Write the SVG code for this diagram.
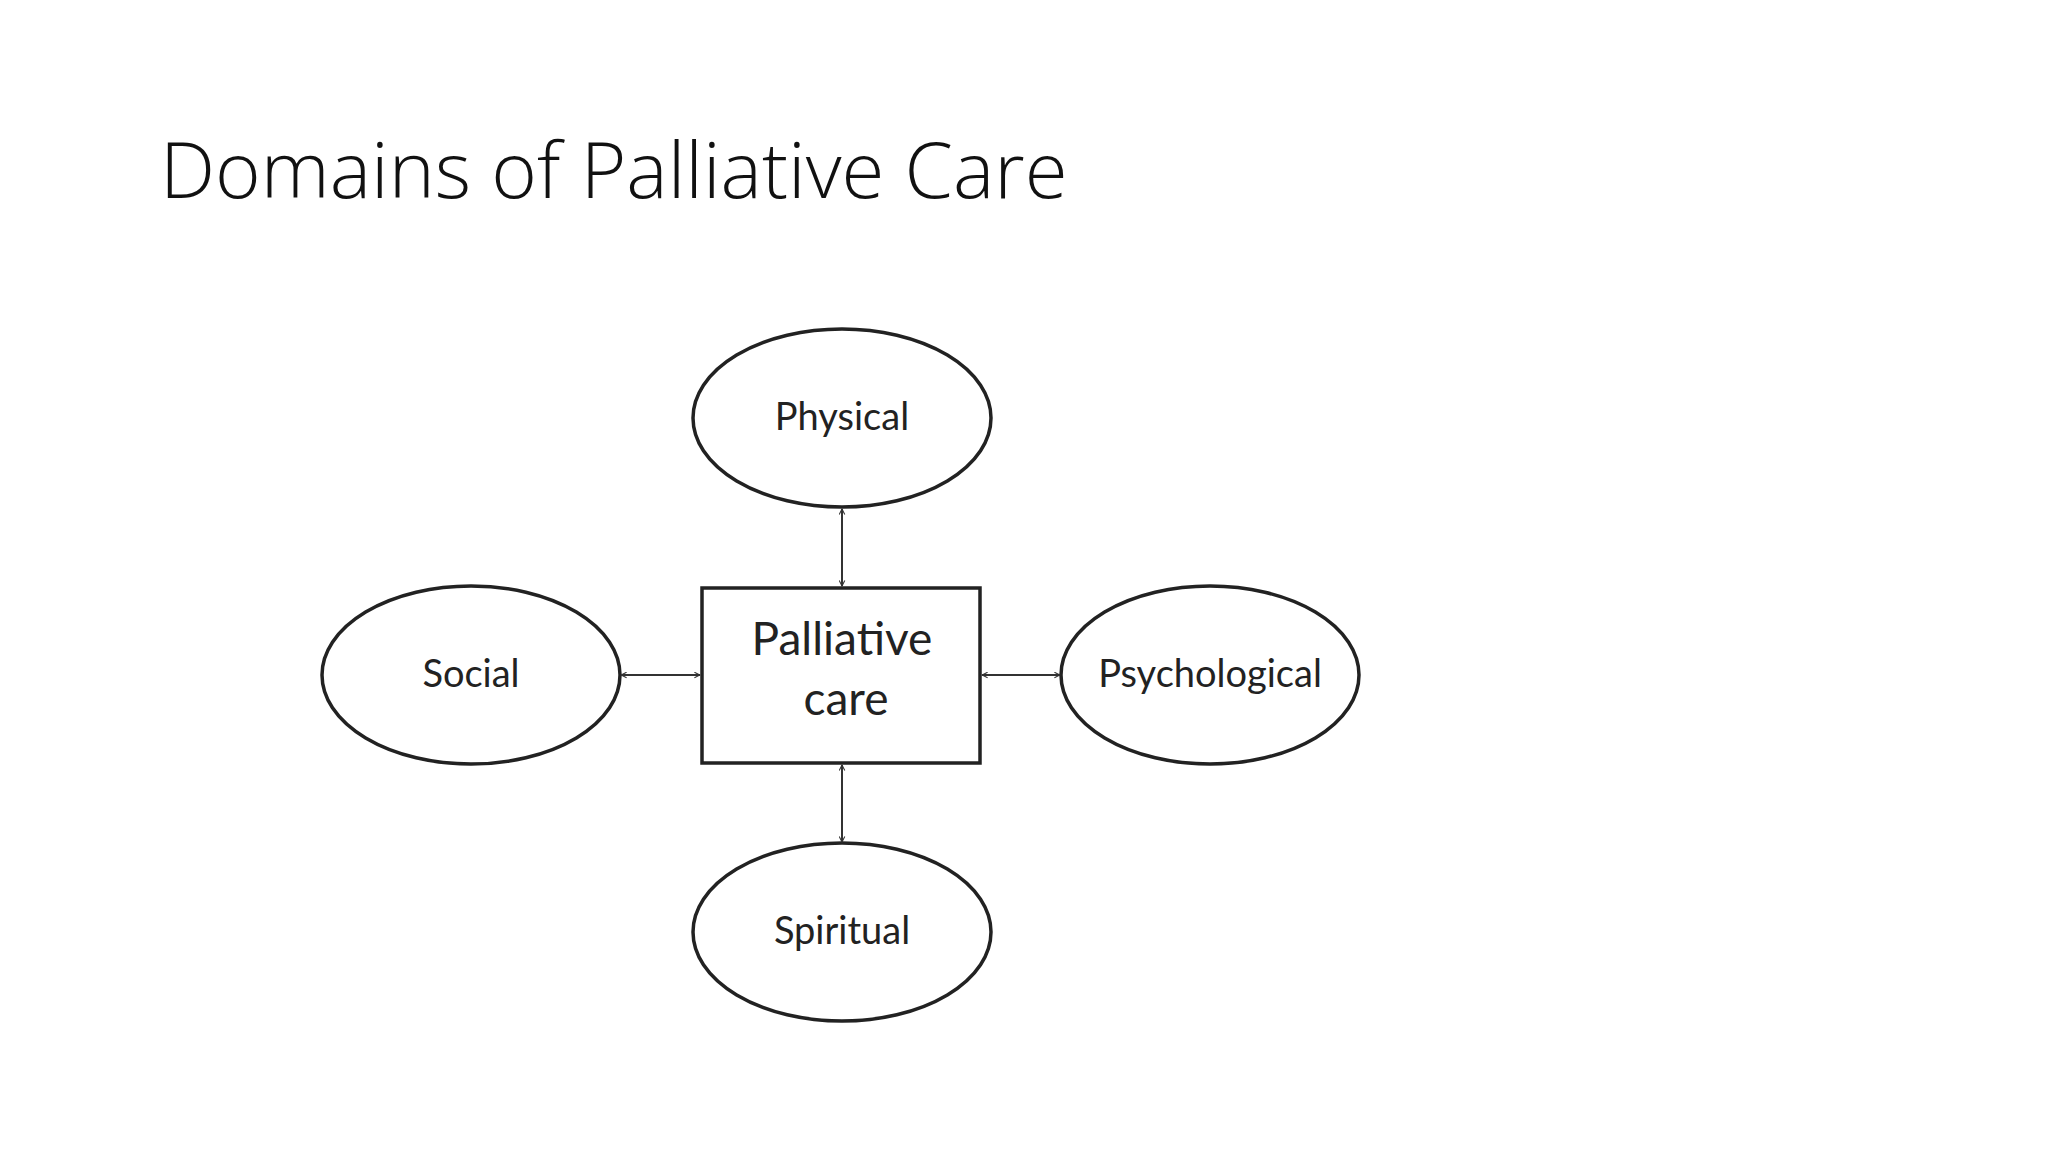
<svg xmlns="http://www.w3.org/2000/svg" width="2048" height="1152" viewBox="0 0 2048 1152">
<style>
.n{fill:#fff;stroke:#222;stroke-width:3.5}
.t{font-family:Lato,"Open Sans",sans-serif;fill:#222;text-anchor:middle}
.c line{stroke:#333;stroke-width:2;marker-start:url(#a);marker-end:url(#a)}
</style>
<defs><marker id="a" viewBox="0 0 10 10" refX="9" refY="5" markerWidth="7" markerHeight="7" orient="auto-start-reverse" markerUnits="userSpaceOnUse"><path d="M1,1 L9,5 L1,9" fill="none" stroke="#333" stroke-width="1.5"/></marker></defs>
<rect width="2048" height="1152" fill="#fff"/>
<text x="160" y="198" font-family="'Open Sans',sans-serif" font-weight="300" font-size="78" fill="#111">Domains of Palliative Care</text>
<g id="physical"><ellipse class="n" cx="842" cy="418" rx="149" ry="89"/><text class="t" x="842" y="430" font-size="38">Physical</text></g>
<g id="social"><ellipse class="n" cx="471" cy="675" rx="149" ry="89"/><text class="t" x="471" y="687" font-size="38">Social</text></g>
<g id="psychological"><ellipse class="n" cx="1210" cy="675" rx="149" ry="89"/><text class="t" x="1210" y="687" font-size="38">Psychological</text></g>
<g id="spiritual"><ellipse class="n" cx="842" cy="932" rx="149" ry="89"/><text class="t" x="842" y="944" font-size="38">Spiritual</text></g>
<g id="center"><rect class="n" x="702" y="588" width="278" height="175"/><text class="t" x="842" y="655" font-size="46">Palliative</text><text class="t" x="846" y="715" font-size="46">care</text></g>
<g class="c">
<line x1="842" y1="509" x2="842" y2="586"/>
<line x1="842" y1="765" x2="842" y2="842"/>
<line x1="621" y1="675" x2="700" y2="675"/>
<line x1="982" y1="675" x2="1060" y2="675"/>
</g>
</svg>
